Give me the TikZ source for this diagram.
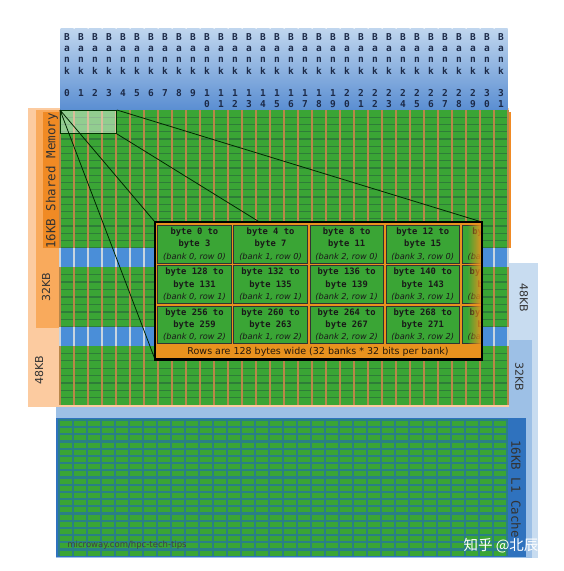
\documentclass[tikz,border=0pt]{standalone}
\usepackage{fontspec}
\setmainfont{DejaVu Sans}
\setmonofont{DejaVu Sans Mono}
\newfontfamily\cjkfont{Noto Sans CJK SC}
\usetikzlibrary{positioning,fadings}

\definecolor{cellgreen}{HTML}{3AA535}
\definecolor{rowline}{HTML}{2E7D38}
\definecolor{colline}{HTML}{B8874A}
\definecolor{bandblue}{HTML}{4A8ED8}
\definecolor{bandline}{HTML}{C8D4E0}
\definecolor{hdrtop}{HTML}{C0D6EE}
\definecolor{hdrbot}{HTML}{5A8ED2}
\definecolor{hdrtext}{HTML}{1C2A48}
\definecolor{smemA}{HTML}{F08A24}
\definecolor{smemB}{HTML}{F9AA5C}
\definecolor{smemC}{HTML}{FCCBA0}
\definecolor{lcacheA}{HTML}{2F72BE}
\definecolor{lcacheB}{HTML}{9DC0E6}
\definecolor{lcacheC}{HTML}{C8DCF0}
\definecolor{lonegrid}{HTML}{2A7F86}
\definecolor{calloutbg}{HTML}{E8921E}

\tikzset{
  banklbl/.style={font=\ttfamily\bfseries\fontsize{9.5}{11.2}\selectfont, text=hdrtext, align=center, anchor=north, inner sep=0pt},
  sizelbl/.style={font=\fontsize{11}{11}\selectfont, text=black!80, inner sep=0pt},
  partlbl/.style={font=\ttfamily\fontsize{12.5}{12.5}\selectfont, text=black!80, inner sep=0pt},
  bytecell/.style={anchor=north west, draw=black!80, line width=0.8pt, fill=cellgreen, minimum width=73.5pt, minimum height=37.5pt, align=center, inner sep=0pt, font=\fontsize{8.8}{12.3}\selectfont, text=black!90},
  hilite/.style={anchor=north west, draw=black!80!green, line width=0.9pt, fill=white, fill opacity=0.45, minimum width=56pt, minimum height=23pt, inner sep=0pt},
  calloutframe/.style={anchor=north west, minimum width=326.5pt, minimum height=137pt, inner sep=0pt},
  zoomline/.style={draw=black!85!green, line width=0.8pt}
}

\begin{document}
\begin{tikzpicture}[x=1pt, y=-1pt]
\fill[white] (0,0) rectangle (564,571);
\useasboundingbox (0,0) rectangle (564,571);

% L1 cache and shared memory partitions
\fill[lcacheC] (56,263) rectangle (538,558);
\fill[lcacheB] (56,340) rectangle (532,558);
\fill[lcacheA] (56,418) rectangle (526,557);
\fill[smemC] (28,108) rectangle (509,407);
\fill[smemB] (36,110) rectangle (509,328);
\fill[smemA] (43,112) rectangle (511,248);

% bank headers
\foreach \i in {0,...,31} {
  \shade[top color=hdrtop, bottom color=hdrbot] ({60.5+14*\i},28) rectangle ({73.5+14*\i},110);
  \pgfmathtruncatemacro\dA{div(\i,10)}
  \pgfmathtruncatemacro\dB{mod(\i,10)}
  \ifnum\i<10 \edef\digs{\i}\else\edef\digs{\dA\noexpand\\\dB}\fi
  \node[banklbl] (hdr\i) at ({67+14*\i},33.3) {B\\a\\n\\k\\[11pt]\digs};
}

% shared memory grid
\fill[cellgreen] (60,110) rectangle (508,405);
\foreach \y in {117.25,124.5,...,248} \draw[rowline, line width=1.2pt] (60,\y) -- (508,\y);
\foreach \y in {274.5,282,...,327} \draw[rowline, line width=1.2pt] (60,\y) -- (508,\y);
\foreach \y in {353.4,360.8,...,405} \draw[rowline, line width=1.2pt] (60,\y) -- (508,\y);
\fill[bandblue] (60,248) rectangle (508,267);
\fill[bandblue] (60,327) rectangle (508,346);
\foreach \i in {0,...,32} {
  \draw[colline, line width=1.4pt] ({60+14*\i},110) -- ({60+14*\i},405);
  \draw[bandline, line width=1.4pt] ({60+14*\i},248) -- ({60+14*\i},267) ({60+14*\i},327) -- ({60+14*\i},346);
}

% L1 cache grid
\fill[lonegrid] (58,419) rectangle (508,556);
\foreach \i in {0,...,31} \foreach \j in {0,...,18}
  \fill[cellgreen] ({60+14*\i},{421+7.2*\j}) rectangle ++(11.5,5);

% partition labels
\node[partlbl, rotate=90] (smem16) at (52,181) {16KB Shared Memory};
\node[sizelbl, rotate=90] (smem32) at (46,287) {32KB};
\node[sizelbl, rotate=90] (smem48) at (39,370) {48KB};
\node[sizelbl, rotate=-90] (lc48) at (524,298) {48KB};
\node[sizelbl, rotate=-90] (lc32) at (519.5,377) {32KB};
\node[partlbl, rotate=-90] (lc16) at (516,489) {16KB L1 Cache};

% zoomed view of the first rows
\node[hilite] (hilite) at (60,110) {};
\node[calloutframe] (callout) at (155,222) {};
\draw[zoomline] (hilite.north west) -- (callout.north west)
  (hilite.north west) -- (callout.south west)
  (hilite.north east) -- (callout.north east)
  (hilite.south east) -- (callout.south east);
\fill[calloutbg] (callout.north west) rectangle (callout.south east);
\begin{scope}
  \clip (callout.north west) rectangle (callout.south east);
  \foreach \r in {0,1,2} \foreach \c in {0,...,4} {
    \pgfmathtruncatemacro\bA{128*\r+4*\c}
    \pgfmathtruncatemacro\bB{\bA+3}
    \node[bytecell] (cell\r\c) at ({157.3+76.1*\c},{225+40.3*\r})
      {\texttt{\textbf{byte \bA{} to}}\\\texttt{\textbf{byte \bB}}\\{\fontsize{8.2}{12.3}\selectfont\itshape (bank \c, row \r)}};
  }
  \fill[calloutbg, path fading=west] (467,222) rectangle (482,359);
\end{scope}
\node[font=\fontsize{9.5}{9.5}\selectfont, text=black!80!brown, inner sep=0pt] (rowsnote) at (318,351.5) {Rows are 128 bytes wide (32 banks * 32 bits per bank)};
\draw[line width=2.5pt] (callout.north west) rectangle (callout.south east);

% credits
\node[font=\fontsize{8.5}{8.5}\selectfont, text=black!75, inner sep=0pt] (credit) at (127,545) {microway.com/hpc-tech-tips};
\node[font=\cjkfont\fontsize{14.5}{14.5}\selectfont, text=white, inner sep=0pt] (zhihu) at (501,546) {知乎 @北辰};
\end{tikzpicture}
\end{document}
